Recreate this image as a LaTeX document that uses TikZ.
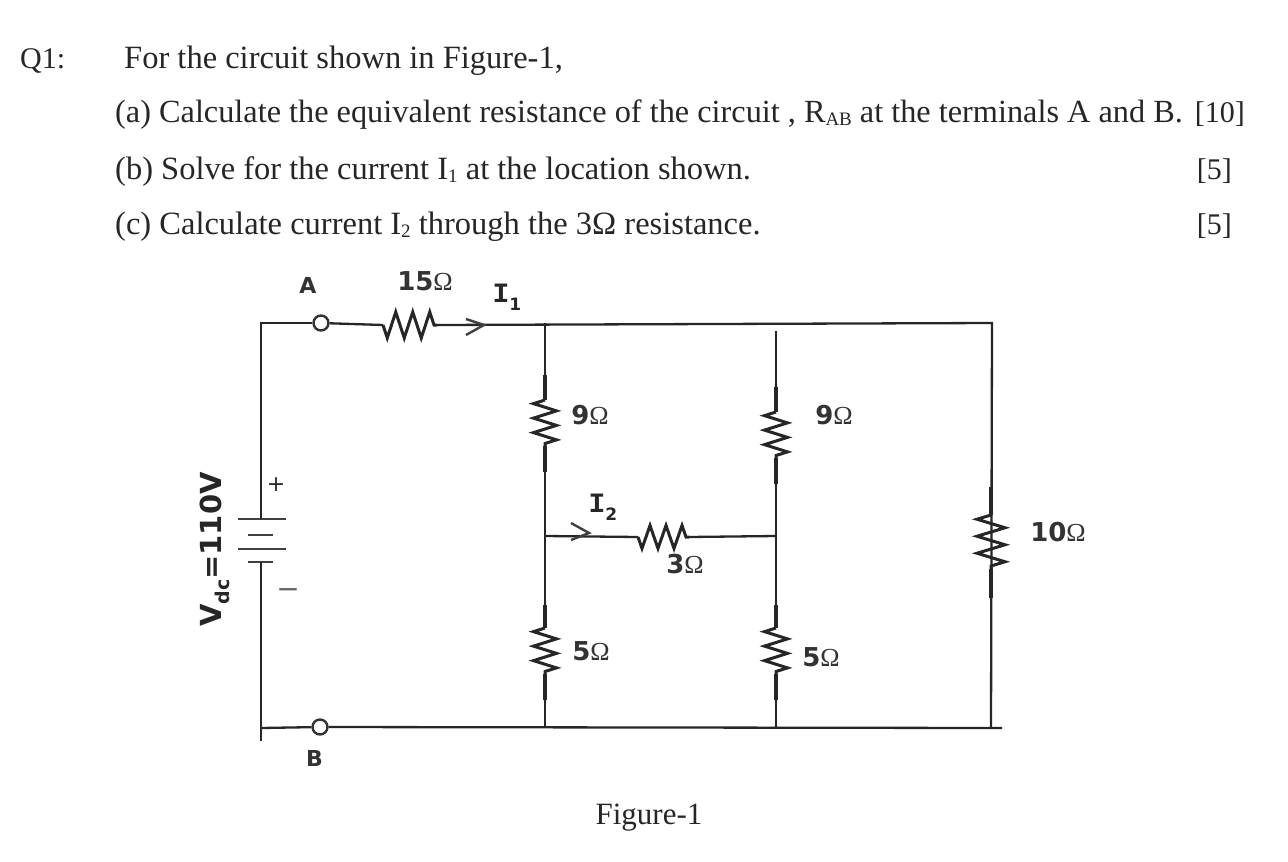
\documentclass[tikz,border=0pt]{standalone}
\usepackage{fontspec}
\setmainfont{Liberation Serif}
\newfontfamily\labelfont{DejaVu Sans}
\newfontfamily\curfont{Liberation Mono}
\usetikzlibrary{calc}
\usetikzlibrary{decorations.pathmorphing}
\tikzstyle{textline} = [anchor=base west, inner sep=0pt, font=\fontsize{32.5}{36}\selectfont, text=black!85]
\tikzstyle{marks} = [anchor=base east, inner sep=0pt, font=\fontsize{30}{34}\selectfont, text=black!85]
\tikzstyle{value} = [inner sep=0pt, font=\labelfont\bfseries\fontsize{26}{28}\selectfont, text=black!80]
\tikzstyle{letter} = [inner sep=0pt, font=\labelfont\bfseries\fontsize{22}{24}\selectfont, text=black!80]
\tikzstyle{current} = [inner sep=0pt, font=\curfont\bfseries\fontsize{28}{30}\selectfont, text=black!85]
\tikzstyle{wire} = [line width=2.3pt, draw=black!85]
\tikzstyle{lead} = [line width=3.2pt, draw=black!85]
\tikzstyle{res} = [line width=3pt, draw=black!85, decorate, decoration={zigzag, segment length=14.5pt, amplitude=-11.5pt}]
\tikzstyle{terminal} = [circle, draw=black!80, line width=2.4pt, fill=white, minimum size=15pt, inner sep=0pt]
\tikzstyle{plate} = [line width=2.4pt, draw=black!75]
\tikzstyle{arrow} = [line width=2.4pt, draw=black!75]
\newcommand{\subs}[1]{\raisebox{-3pt}{\fontsize{19}{20}\selectfont #1}}
\newcommand{\cursub}[1]{\raisebox{-8pt}{\labelfont\bfseries\fontsize{17}{18}\selectfont #1}}
\newcommand{\ohm}{{\rmfamily\mdseries Ω}}
\begin{document}
\begin{tikzpicture}[x=1pt,y=-1pt]
\useasboundingbox (0,0) rectangle (1288,862);
% question text
\node(q)[textline,font=\fontsize{30}{34}\selectfont] at (20,68) {Q1:};
\node(q0)[textline] at (124,68) {For the circuit shown in Figure-1,};
\node(qa)[textline,font=\fontsize{32.3}{36}\selectfont] at (115,122) {(a) Calculate the equivalent resistance of the circuit , R\subs{AB} at the terminals A and B.};
\node(qb)[textline] at (115,179) {(b) Solve for the current I\subs{1} at the location shown.};
\node(qc)[textline] at (115,234) {(c) Calculate current I\subs{2} through the 3Ω resistance.};
\node(ma)[marks] at (1245,122) {[10]};
\node(mb)[marks] at (1232,179) {[5]};
\node(mc)[marks] at (1232,234) {[5]};
\node(fig)[textline,anchor=base,font=\fontsize{31}{34}\selectfont] at (649,824) {Figure-1};

% corners and junctions
\coordinate(tl) at (261,323);
\coordinate(bl) at (261,728);
\coordinate(bltail) at (261,741);
\coordinate(tj1) at (545,323);
\coordinate(tj2) at (776,331);
\coordinate(tr) at (992,323);
\coordinate(bj1) at (545,728);
\coordinate(bj2) at (776,728);
\coordinate(br) at (991,728);
\coordinate(brtail) at (1002,728);
\coordinate(mj1) at (545,536);
\coordinate(mj2) at (776,536);

% terminals
\node(a)[terminal] at (321,323) {};
\node(b)[terminal] at (320,727) {};

% resistors, start and end of each zigzag
\coordinate(r15a) at (383,325);
\coordinate(r15b) at (437,325);
\coordinate(r9la) at (545,400);
\coordinate(r9lb) at (545,446);
\coordinate(r5la) at (545,628);
\coordinate(r5lb) at (545,674);
\coordinate(r9ra) at (776,412);
\coordinate(r9rb) at (776,458);
\coordinate(r5ra) at (776,628);
\coordinate(r5rb) at (776,674);
\coordinate(r10a) at (991,515);
\coordinate(r10b) at (991,569);
\coordinate(r3a) at (638,537);
\coordinate(r3b) at (689,537);

% battery
\coordinate(p1) at (261,519);
\coordinate(p2) at (261,535);
\coordinate(p3) at (261,549);
\coordinate(p4) at (261,562);
\draw[plate] ($(p1)+(-23,0)$) -- ($(p1)+(25,0)$);
\draw[plate] ($(p2)+(-13,0)$) -- ($(p2)+(12,0)$);
\draw[plate] ($(p3)+(-23,0)$) -- ($(p3)+(25,0)$);
\draw[plate] ($(p4)+(-13,0)$) -- ($(p4)+(12,0)$);

% wires
\draw[wire] (p1) -- (tl) -- (a);
\draw[wire] (a) -- (r15a);
\draw[res,decoration={segment length=17pt,amplitude=-13pt}] (r15a) -- (r15b);
\draw[wire] (r15b) -- (tr) -- (br);
\draw[wire] (p4) -- (bltail);
\draw[wire] (bl) -- (b);
\draw[wire] (b) -- (brtail);
\draw[wire] (tj1) -- (r9la);
\draw[res] (r9la) -- (r9lb);
\draw[wire] (r9lb) -- (r5la);
\draw[res] (r5la) -- (r5lb);
\draw[wire] (r5lb) -- (bj1);
\draw[wire] (tj2) -- (r9ra);
\draw[res] (r9ra) -- (r9rb);
\draw[wire] (r9rb) -- (r5ra);
\draw[res] (r5ra) -- (r5rb);
\draw[wire] (r5rb) -- (bj2);
\draw[wire] (mj1) -- (r3a);
\draw[res,decoration={segment length=16pt}] (r3a) -- (r3b);
\draw[wire] (r3b) -- (mj2);
\draw[res,decoration={segment length=17pt,amplitude=-14pt}] (r10a) -- (r10b);

% thick ends beside the resistors
\draw[lead] ($(r9la)+(0,-25)$) -- (r9la);
\draw[lead] (r9lb) -- ($(r9lb)+(0,26)$);
\draw[lead] ($(r5la)+(0,-23)$) -- (r5la);
\draw[lead] (r5lb) -- ($(r5lb)+(0,26)$);
\draw[lead] ($(r9ra)+(0,-25)$) -- (r9ra);
\draw[lead] (r9rb) -- ($(r9rb)+(0,26)$);
\draw[lead] ($(r5ra)+(0,-23)$) -- (r5ra);
\draw[lead] (r5rb) -- ($(r5rb)+(0,26)$);
\draw[lead] ($(r10a)+(0,-28)$) -- (r10a);
\draw[lead] (r10b) -- ($(r10b)+(0,29)$);

% current arrows
\coordinate(ar1) at (484,325);
\coordinate(ar2) at (589,533);
\draw[arrow] ($(ar1)+(-18,-6)$) -- (ar1) -- ($(ar1)+(-18,10)$);
\draw[arrow] ($(ar2)+(-18,-10)$) -- (ar2) -- ($(ar2)+(-18,7)$);

% labels
\node(la)[letter] at (308,285) {A};
\node(lb)[letter] at (314.5,758) {B};
\node(l15)[value] at (425,281) {15\ohm};
\node(li1)[current] at (507,297) {I\cursub{1}};
\node(li2)[current] at (603,507) {I\cursub{2}};
\node(l9l)[value] at (590,415) {9\ohm};
\node(l9r)[value] at (834,415) {9\ohm};
\node(l3)[value] at (685,564) {3\ohm};
\node(l5l)[value] at (591,651) {5\ohm};
\node(l5r)[value] at (821,657) {5\ohm};
\node(l10)[value] at (1058,532) {10\ohm};
\node(plus)[inner sep=0pt,font=\labelfont\fontsize{22}{24}\selectfont,text=black!85] at (276,485) {+};
\node(minus)[inner sep=0pt,font=\labelfont\fontsize{28}{30}\selectfont,text=black!60] at (288,594) {−};
\node(vdc)[inner sep=0pt,rotate=90,font=\labelfont\bfseries\fontsize{29}{31}\selectfont,text=black!85] at (215,549.5) {V\raisebox{-8pt}{\fontsize{19}{20}\selectfont dc}=110V};
\end{tikzpicture}
\end{document}
